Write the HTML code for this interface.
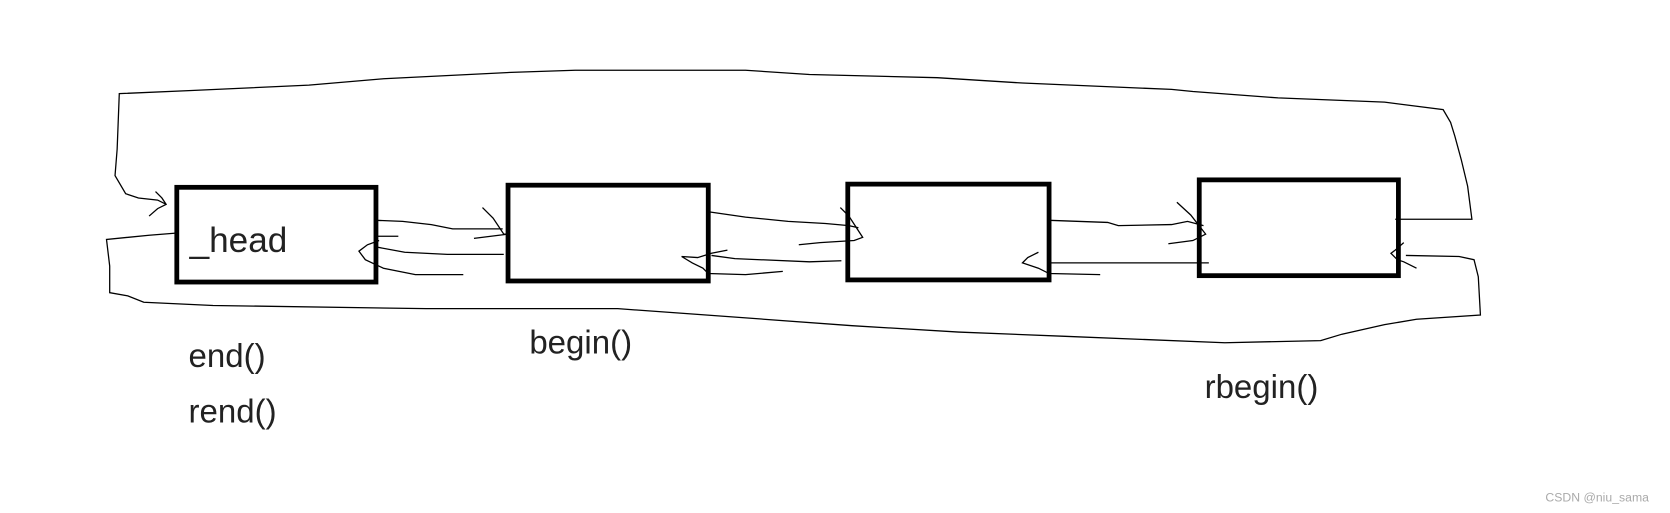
<!DOCTYPE html>
<html><head><meta charset="utf-8"><style>
html,body{margin:0;padding:0;background:#fff;}
svg{display:block;}
text{font-family:"Liberation Sans",sans-serif;fill:#222;}
</style></head><body>
<svg width="1670" height="513" viewBox="0 0 1568 482" preserveAspectRatio="none" xmlns="http://www.w3.org/2000/svg">
<g fill="none" stroke="#000" stroke-width="1.2">
<polyline points="1310,206 1382,206 1378,175 1372,150 1366,128 1362,115 1355,103 1300,96 1200,92 1120,86 1100,84 960,78 880,73 760,70 700,66 540,66 480,68 360,74 290,80 180,85 112,88 110,140 108,165 118,182 130,186 148,188 156,192"/>
<polyline points="146,180 152,186 156,192 148,196 140,203"/>
<polyline points="165,219 140,221 100,225 103,250 103,275 120,278 135,284 200,287 400,290 580,290 650,295 800,306 900,312 1000,316 1150,322 1240,320 1260,314 1300,305 1330,300 1390,296 1388,260 1384,244 1370,241 1320,240"/>
<polyline points="1318,228 1310,235 1306,238 1312,244 1318,246 1330,252"/>
<polyline points="353,207 378,208 405,211 425,215 472,215"/>
<polyline points="453,195 463,205 473,220 477,220 445,224"/>
<polyline points="353,222 374,222"/>
<polyline points="353,232 380,237 420,239 473,239"/>
<polyline points="356,226 345,230 337,236 343,244 360,252 390,258 435,258"/>
<polyline points="665,199 700,204 740,208 775,210 797,212 806,214"/>
<polyline points="789,195 797,203 810,223 802,226 770,228 750,230"/>
<polyline points="683,235 668,238 655,242 640,241 650,247 660,252 665,257 700,258 735,255"/>
<polyline points="668,240 690,243 760,246 790,245"/>
<polyline points="985,207 1040,209 1050,212 1100,211 1115,208 1130,212"/>
<polyline points="1105,190 1118,202 1132,220 1120,226 1097,229"/>
<polyline points="1135,247 1060,247 985,247"/>
<polyline points="975,237 965,242 960,247 975,252 985,257 1033,258"/>
</g>
<g fill="none" stroke="#000" stroke-width="4.5">
<rect x="166" y="176" width="187" height="89"/>
<rect x="477" y="174" width="188" height="90"/>
<rect x="796" y="173" width="189" height="90"/>
<rect x="1126" y="169" width="187" height="90"/>
</g>
<text x="178" y="237" font-size="33">_head</text>
<text x="177" y="345" font-size="31">end()</text>
<text x="177" y="397" font-size="31">rend()</text>
<text x="497" y="332" font-size="31">begin()</text>
<text x="1131" y="374" font-size="31">rbegin()</text>
<text x="1451" y="471" font-size="11.5" style="fill:#aaa">CSDN @niu_sama</text>
</svg>
</body></html>
